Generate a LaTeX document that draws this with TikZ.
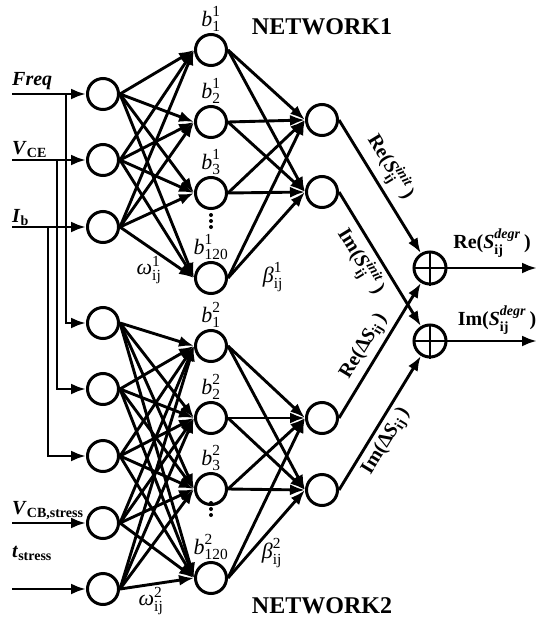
\documentclass[tikz,border=0pt]{standalone}
\usepackage{fontspec}
\setmainfont{Liberation Serif}
\usepackage{amsmath}
\usepackage{tikz}
\usetikzlibrary{arrows.meta, positioning}
\newcommand{\lblfont}{\fontsize{20}{23}\selectfont\bfseries}
\newcommand{\biasfont}{\fontsize{22}{26}\selectfont}
\newcommand{\netfont}{\fontsize{24}{28}\selectfont\bfseries}
\tikzset{
  neuron/.style={circle, draw=black, line width=3pt, minimum size=31pt, inner sep=0pt},
  sumnode/.style={circle, draw=black, line width=3pt, minimum size=32pt, inner sep=0pt},
  arrow/.style={-{Latex[length=15pt,width=11pt]}, line width=2.9pt, color=black},
  line/.style={line width=2.9pt, color=black},
  inlabel/.style={anchor=base west, inner sep=0pt, font=\lblfont},
  biaslabel/.style={inner sep=0pt, font=\biasfont},
  netlabel/.style={font=\netfont},
  siglabel/.style={sloped, font=\lblfont, inner sep=4pt}
}

\begin{document}
\begin{tikzpicture}[x=1pt, y=-1pt]
  \useasboundingbox (0,0) rectangle (550,627);

  % --- NETWORK 1 ---
  \foreach \y [count=\i] in {94,160,227} \node[neuron] (n1_in\i) at (103,\y) {};
  \foreach \y [count=\i] in {50,122,193,278} \node[neuron] (n1_h\i) at (211,\y) {};
  \foreach \y [count=\i] in {120,192} \node[neuron] (n1_out\i) at (322,\y) {};
  \foreach \i in {1,...,3} \foreach \j in {1,...,4} \draw[arrow] (n1_in\i.east) -- (n1_h\j.west);
  \foreach \j in {1,...,4} \foreach \k in {1,2} \draw[arrow] (n1_h\j.east) -- (n1_out\k.west);

  \node[biaslabel, above=1pt of n1_h1] (n1_b1) {$\textit{b}^{\text{1}}_{\text{1}}$};
  \node[biaslabel, above=1pt of n1_h2] (n1_b2) {$\textit{b}^{\text{1}}_{\text{2}}$};
  \node[biaslabel, above=1pt of n1_h3] (n1_b3) {$\textit{b}^{\text{1}}_{\text{3}}$};
  \node[biaslabel, above=1pt of n1_h4] (n1_b4) {$\textit{b}^{\text{1}}_{\text{120}}$};
  \foreach \y in {215,221,227} \fill (211,\y) circle (2pt);
  \node[biaslabel] (n1_w) at (149,270) {$\textit{ω}^{\text{1}}_{\text{ij}}$};
  \node[biaslabel] (n1_beta) at (273,277) {$\textit{β}^{\text{1}}_{\text{ij}}$};
  \node[netlabel] (n1_title) at (322,27) {NETWORK1};

  % --- NETWORK 2 ---
  \foreach \y [count=\i] in {323,389,456,523,589} \node[neuron] (n2_in\i) at (103,\y) {};
  \foreach \y [count=\i] in {346,418,489,578} \node[neuron] (n2_h\i) at (211,\y) {};
  \foreach \y [count=\i] in {418,490} \node[neuron] (n2_out\i) at (322,\y) {};
  \foreach \i in {1,...,5} \foreach \j in {1,...,4} \draw[arrow] (n2_in\i.east) -- (n2_h\j.west);
  \foreach \j in {1,...,4} \foreach \k in {1,2} \draw[arrow] (n2_h\j.east) -- (n2_out\k.west);

  \node[biaslabel, above=1pt of n2_h1] (n2_b1) {$\textit{b}^{\text{2}}_{\text{1}}$};
  \node[biaslabel, above=1pt of n2_h2] (n2_b2) {$\textit{b}^{\text{2}}_{\text{2}}$};
  \node[biaslabel, above=1pt of n2_h3] (n2_b3) {$\textit{b}^{\text{2}}_{\text{3}}$};
  \node[biaslabel, above=1pt of n2_h4] (n2_b4) {$\textit{b}^{\text{2}}_{\text{120}}$};
  \foreach \y in {503,509,515} \fill (211,\y) circle (2pt);
  \node[biaslabel] (n2_w) at (151,601) {$\textit{ω}^{\text{2}}_{\text{ij}}$};
  \node[biaslabel] (n2_beta) at (272,553) {$\textit{β}^{\text{2}}_{\text{ij}}$};
  \node[netlabel] (n2_title) at (322,606) {NETWORK2};

  % --- INPUTS ---
  \node[inlabel] (t_freq) at (12,85) {\textit{Freq}};
  \node[inlabel] (t_vce) at (12,154) {$\textbf{\textit{V}}_{\textbf{CE}}$};
  \node[inlabel] (t_ib) at (12,222) {$\textbf{\textit{I}}_{\textbf{b}}$};
  \node[inlabel] (t_vcb) at (12,514) {$\textbf{\textit{V}}_{\textbf{CB,stress}}$};
  \node[inlabel] (t_ts) at (12,557) {$\textbf{\textit{t}}_{\textbf{stress}}$};
  \coordinate (x_freq) at (12,94);
  \coordinate (x_vce) at (12,160);
  \coordinate (x_ib) at (12,227);
  \coordinate (x_vcb) at (12,523);
  \coordinate (x_ts) at (12,589);
  \coordinate (j_freq) at (66,94);
  \coordinate (j_vce) at (57,160);
  \coordinate (j_ib) at (48,227);
  \draw[arrow] (x_freq) -- (n1_in1.west);
  \draw[arrow] (x_vce) -- (n1_in2.west);
  \draw[arrow] (x_ib) -- (n1_in3.west);
  \draw[arrow] (j_freq) |- (n2_in1.west);
  \draw[arrow] (j_vce) |- (n2_in2.west);
  \draw[arrow] (j_ib) |- (n2_in3.west);
  \draw[arrow] (x_vcb) -- (n2_in4.west);
  \draw[arrow] (x_ts) -- (n2_in5.west);

  % --- SUMMATION ---
  \node[sumnode] (s_re) at (430,268) {};
  \node[sumnode] (s_im) at (430,341) {};
  \draw[line] (s_re.north) -- (s_re.south);
  \draw[line] (s_re.west) -- (s_re.east);
  \draw[line] (s_im.north) -- (s_im.south);
  \draw[line] (s_im.west) -- (s_im.east);

  \draw[arrow] (n1_out1.east) -- node[siglabel, above, pos=0.43] (l_re_init) {Re($\textbf{\textit{S}}^{\textbf{\textit{init}}}_{\textbf{ij}}$\,)} (s_re);
  \draw[arrow] (n1_out2.east) -- node[siglabel, below, pos=0.45] (l_im_init) {Im($\textbf{\textit{S}}^{\textbf{\textit{init}}}_{\textbf{ij}}$\,)} (s_im);
  \draw[arrow] (n2_out1.east) -- node[siglabel, above, pos=0.47] (l_re_d) {Re(Δ$\textbf{\textit{S}}_{\textbf{ij}}$\,)} (s_re);
  \draw[arrow] (n2_out2.east) -- node[siglabel, below, pos=0.42] (l_im_d) {Im(Δ$\textbf{\textit{S}}_{\textbf{ij}}$\,)} (s_im);

  \coordinate (y_re) at (537,268);
  \coordinate (y_im) at (537,341);
  \draw[arrow] (s_re.east) -- (y_re);
  \draw[arrow] (s_im.east) -- (y_im);
  \node[font=\lblfont] (l_re_degr) at (492,243) {Re($\textbf{\textit{S}}^{\textbf{\textit{degr}}}_{\textbf{ij}}$\,)};
  \node[font=\lblfont] (l_im_degr) at (497,320) {Im($\textbf{\textit{S}}^{\textbf{\textit{degr}}}_{\textbf{ij}}$\,)};
\end{tikzpicture}
\end{document}
